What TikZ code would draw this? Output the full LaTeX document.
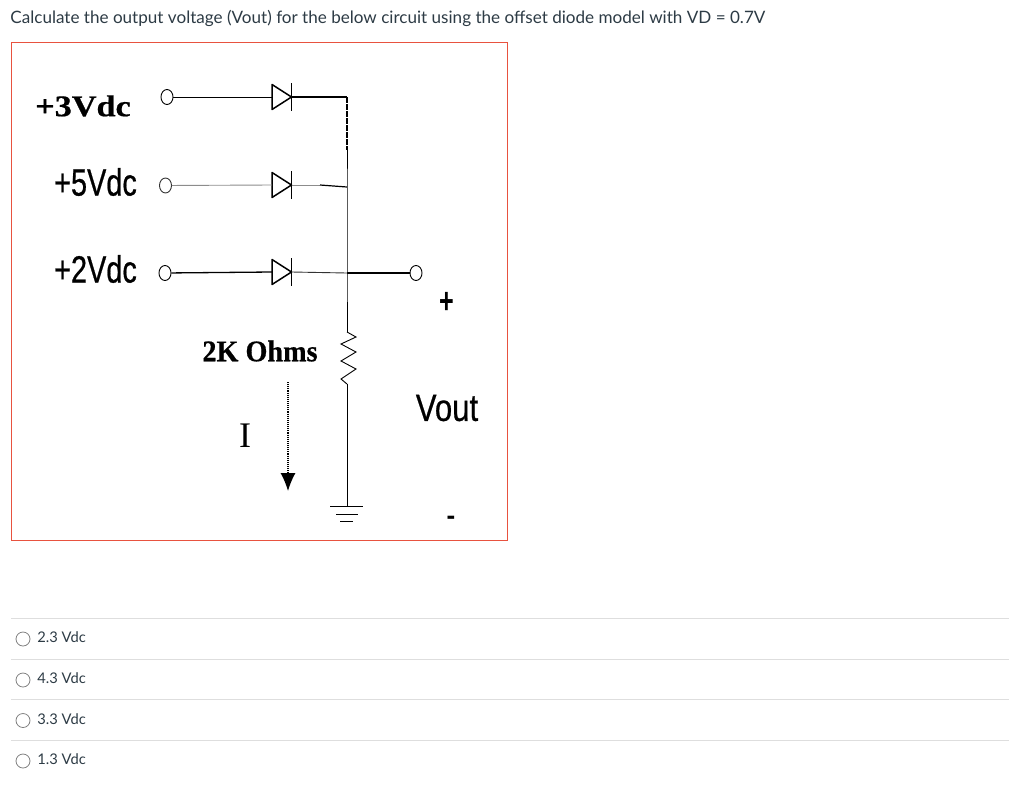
\documentclass[tikz,border=0pt]{standalone}
\usepackage{fontspec}
\setmainfont{Lato}
\newfontfamily\serifface{Liberation Serif}
\newfontfamily\serifheavy[FakeBold=0.6]{Liberation Serif Bold}
\newfontfamily\sansface[FakeBold=0.7]{Liberation Sans}
\newfontfamily\sansbold{Liberation Sans Bold}
\usetikzlibrary{arrows, arrows.meta}
\usetikzlibrary{shapes.geometric}
\usepackage{xcolor}
\definecolor{framered}{HTML}{E8523F}
\definecolor{ruleline}{HTML}{DEDEDE}
\definecolor{bodytext}{HTML}{2D3B45}
\tikzset{
  terminal/.style={draw, ellipse, inner sep=0pt, minimum width=12pt, minimum height=15pt, line width=0.9pt},
  bigserif/.style={font=\serifheavy\fontsize{30}{30}\selectfont, transform shape, inner sep=0pt},
  bigsans/.style={font=\sansface\fontsize{38}{38}\selectfont, transform shape, inner sep=0pt},
  choice/.style={font=\fontsize{14.7}{15}\selectfont, text=bodytext, anchor=west, inner sep=0pt},
  radio/.style={draw=gray, circle, inner sep=0pt, minimum size=14pt, line width=0.8pt}
}
\begin{document}
\begin{tikzpicture}[x=1pt, y=-1pt, line width=0.9pt]
\useasboundingbox (0,0) rectangle (1024,787);

%question
\node[font=\fontsize{17.08}{18}\selectfont, text=bodytext, anchor=west, inner sep=0pt] (question) at (10,18) {Calculate the output voltage (Vout) for the below circuit using the offset diode model with VD = 0.7V};
\draw[framered, line width=1.15pt] (11.5,42.5) rectangle (507.5,540.5);

%terminals
\node[terminal] (termthree) at (167,97) {};
\node[terminal, draw=black!80] (termfive) at (165.5,185.5) {};
\node[terminal] (termtwo) at (165,273) {};
\node[terminal] (termout) at (416,273) {};

%diodes
\foreach \y/\name in {97/top,185/mid,272/low} {
  \coordinate (anode\name) at (272,\y);
  \coordinate (cathode\name) at (291.5,\y);
  \draw[line width=1.5pt, line join=round] (272,\y-12.5) -- (cathode\name) -- (272,\y+12.5) -- cycle;
  \draw[line width=1.1pt] (291.5,\y-14) -- (291.5,\y+14);
}

%wires
\coordinate (jtop) at (347,97);
\coordinate (jdash) at (347,150);
\coordinate (jmid) at (347,187);
\coordinate (jlow) at (347,273);
\coordinate (bendmid) at (320,185);
\coordinate (restop) at (347,332);
\coordinate (resbot) at (347,384);
\coordinate (gnd) at (347,506);
\draw (termthree) -- (anodetop);
\draw[black!45] (termfive) -- (anodemid);
\draw[line width=1.3pt] (termtwo) -- (anodelow);
\draw[line width=1.8pt] (cathodetop) -- (jtop);
\draw[black!45] (cathodemid) -- (bendmid);
\draw[line width=1.2pt] (bendmid) -- (jmid);
\draw[black!80] (cathodelow) -- (jlow);
\draw[line width=1.6pt] (jlow) -- (termout);
\draw[line width=1.1pt, dash pattern=on 6pt off 1pt] (jtop) -- (jdash);
\draw (jdash) -- (jmid) -- (jlow) -- (restop);

%resistor
\draw (restop) -- (356,337) -- (341,344) -- (356,352) -- (341,361) -- (356,369) -- (341,379) -- (resbot);
\draw (resbot) -- (gnd);

%ground
\draw (330,506) -- (363,506);
\draw (336,514) -- (358,514);
\draw (340,521) -- (353,521);

%current arrow
\coordinate (itop) at (288,382);
\coordinate (ibot) at (288,491);
\draw[densely dotted, line width=1.1pt, -{Latex[length=18pt, width=15pt]}] (itop) -- (ibot);

%labels
\node[bigserif, xscale=1.14] (vthree) at (83,106) {+3Vdc};
\node[bigsans, xscale=0.76] (vfive) at (95.5,182) {+5Vdc};
\node[bigsans, xscale=0.76] (vtwo) at (95.5,269) {+2Vdc};
\node[bigserif, xscale=0.94] (rlabel) at (260,351) {2K Ohms};
\node[font=\serifface\fontsize{36}{36}\selectfont, inner sep=0pt] (ilabel) at (245,436) {I};
\node[bigsans, xscale=0.82] (vout) at (447,408) {Vout};
\node[font=\sansbold\fontsize{36}{36}\selectfont, xscale=0.7, transform shape, inner sep=0pt] (plus) at (447,303) {+};
\node[font=\sansbold\fontsize{26}{26}\selectfont, inner sep=0pt] (minus) at (451,520) {-};

%answer choices
\foreach \y/\t in {618/2.3,659/4.3,699.5/3.3,740/1.3} {
  \draw[ruleline] (11,\y) -- (1009,\y);
  \node[radio] (radio\t) at (23,\y+21) {};
  \node[choice] (choice\t) at (37,\y+19.5) {\t\ Vdc};
}

\end{tikzpicture}
\end{document}
